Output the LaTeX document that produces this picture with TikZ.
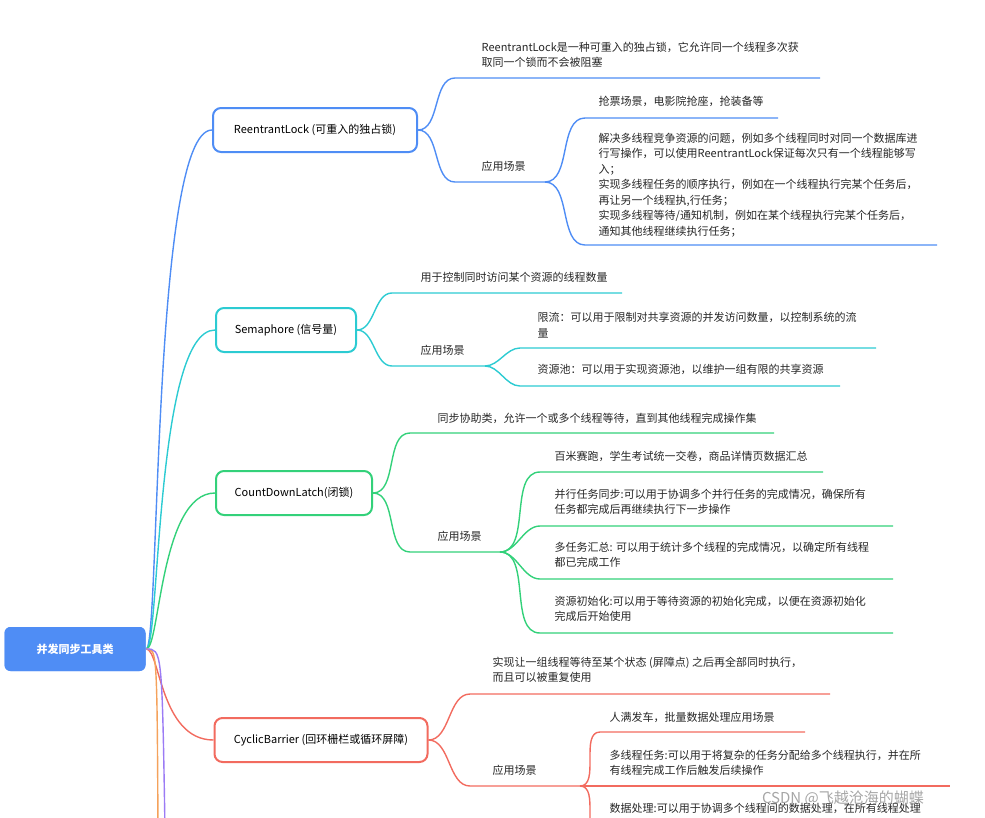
\documentclass[tikz,border=0pt]{standalone}
\usepackage{fontspec}
\setmainfont{Noto Sans CJK SC}
\definecolor{cBlue}{HTML}{4F8DF5}
\definecolor{cCyan}{HTML}{2CCBD2}
\definecolor{cGreen}{HTML}{33D17A}
\definecolor{cRed}{HTML}{F26B5F}
\definecolor{cOrange}{HTML}{F5A25B}
\definecolor{cPurple}{HTML}{9B7BF5}
\begin{document}
\begin{tikzpicture}[x=1pt,y=-1pt,
  line width=1.4pt,
  root node/.style={rounded corners=6pt,fill=cBlue,text=white,font=\fontsize{11}{13}\selectfont\bfseries,minimum width=141pt,minimum height=44pt},
  branch node/.style={rounded corners=8pt,draw,fill=white,line width=2pt,font=\fontsize{11}{13}\selectfont,minimum height=44pt,inner xsep=8pt},
  leaf/.style={anchor=west,align=left,inner sep=0pt,font=\fontsize{11}{15.5}\selectfont,text=black!85},
  link/.style={out=0,in=180,looseness=0.9}]

  \useasboundingbox (0,0) rectangle (985,817);
  \clip (0,0) rectangle (985,817);

  \node[root node] (root) at (75,649){并发同步工具类};
  \node[branch node,draw=cBlue,minimum width=204pt] (rl) at (315,130){ReentrantLock (可重入的独占锁)};
  \node[branch node,draw=cCyan,minimum width=140pt] (sem) at (286,330){Semaphore (信号量)};
  \node[branch node,draw=cGreen,minimum width=156pt] (cdl) at (294,493){CountDownLatch(闭锁)};
  \node[branch node,draw=cRed,minimum width=213pt] (cb) at (321,740){CyclicBarrier (回环栅栏或循环屏障)};
  \coordinate (more1) at (158,830);
  \coordinate (more2) at (165,830);

  % root to branches
  \draw[cBlue] (root.east) .. controls (160,649) and (152,130) .. (rl.west);
  \draw[cCyan] (root.east) .. controls (160,649) and (155,330) .. (sem.west);
  \draw[cGreen] (root.east) .. controls (160,649) and (160,493) .. (cdl.west);
  \draw[cRed] (root.east) .. controls (160,649) and (160,740) .. (cb.west);
  \draw[cOrange] (root.east) .. controls (157,649) .. (more1);
  \draw[cPurple] (root.east) .. controls (162,649) .. (more2);
  \node[root node] at (root){并发同步工具类};

  % ReentrantLock
  \coordinate (rl1s) at (455,78);  \coordinate (rl1e) at (820,78);
  \coordinate (rl2s) at (455,182); \coordinate (rl2e) at (545,182);
  \coordinate (rl3s) at (585,118); \coordinate (rl3e) at (778,118);
  \coordinate (rl4s) at (585,245); \coordinate (rl4e) at (937,245);
  \node[leaf] (rlt1) at (481,55){ReentrantLock是一种可重入的独占锁，它允许同一个线程多次获\\取同一个锁而不会被阻塞};
  \node[leaf] (rlt2) at (481,166){应用场景};
  \node[leaf] (rlt3) at (598,101){抢票场景，电影院抢座，抢装备等};
  \node[leaf] (rlt4) at (598,185){解决多线程竞争资源的问题，例如多个线程同时对同一个数据库进\\行写操作，可以使用ReentrantLock保证每次只有一个线程能够写\\入；\\实现多线程任务的顺序执行，例如在一个线程执行完某个任务后，\\再让另一个线程执,行任务；\\实现多线程等待/通知机制，例如在某个线程执行完某个任务后，\\通知其他线程继续执行任务；};
  \draw[cBlue] (rl.east) to[link] (rl1s) -- (rl1e);
  \draw[cBlue] (rl.east) to[link] (rl2s) -- (rl2e);
  \draw[cBlue] (rl2e) to[link] (rl3s) -- (rl3e);
  \draw[cBlue] (rl2e) to[link] (rl4s) -- (rl4e);

  % Semaphore
  \coordinate (sm1s) at (392,293); \coordinate (sm1e) at (622,293);
  \coordinate (sm2s) at (392,366); \coordinate (sm2e) at (485,366);
  \coordinate (sm3s) at (520,348); \coordinate (sm3e) at (876,348);
  \coordinate (sm4s) at (520,386); \coordinate (sm4e) at (840,386);
  \node[leaf] (smt1) at (420,277){用于控制同时访问某个资源的线程数量};
  \node[leaf] (smt2) at (420,350){应用场景};
  \node[leaf] (smt3) at (537,325){限流：可以用于限制对共享资源的并发访问数量，以控制系统的流\\量};
  \node[leaf] (smt4) at (537,369){资源池：可以用于实现资源池，以维护一组有限的共享资源};
  \draw[cCyan] (sem.east) to[link] (sm1s) -- (sm1e);
  \draw[cCyan] (sem.east) to[link] (sm2s) -- (sm2e);
  \draw[cCyan] (sm2e) to[link] (sm3s) -- (sm3e);
  \draw[cCyan] (sm2e) to[link] (sm4s) -- (sm4e);

  % CountDownLatch
  \coordinate (cd1s) at (410,433); \coordinate (cd1e) at (774,433);
  \coordinate (cd2s) at (410,552); \coordinate (cd2e) at (500,552);
  \coordinate (cd3s) at (540,472); \coordinate (cd3e) at (823,472);
  \coordinate (cd4s) at (540,526); \coordinate (cd4e) at (893,526);
  \coordinate (cd5s) at (540,579); \coordinate (cd5e) at (893,579);
  \coordinate (cd6s) at (540,633); \coordinate (cd6e) at (893,633);
  \node[leaf] (cdt1) at (437,418){同步协助类，允许一个或多个线程等待，直到其他线程完成操作集};
  \node[leaf] (cdt2) at (437,536){应用场景};
  \node[leaf] (cdt3) at (554,456){百米赛跑，学生考试统一交卷，商品详情页数据汇总};
  \node[leaf] (cdt4) at (554,502){并行任务同步:可以用于协调多个并行任务的完成情况，确保所有\\任务都完成后再继续执行下一步操作};
  \node[leaf] (cdt5) at (554,555){多任务汇总: 可以用于统计多个线程的完成情况，以确定所有线程\\都已完成工作};
  \node[leaf] (cdt6) at (554,609){资源初始化:可以用于等待资源的初始化完成，以便在资源初始化\\完成后开始使用};
  \draw[cGreen] (cdl.east) to[link] (cd1s) -- (cd1e);
  \draw[cGreen] (cdl.east) to[link] (cd2s) -- (cd2e);
  \foreach \i in {3,...,6}
    \draw[cGreen] (cd2e) to[link] (cd\i s) -- (cd\i e);

  % CyclicBarrier
  \coordinate (cy1s) at (470,694); \coordinate (cy1e) at (830,694);
  \coordinate (cy2s) at (470,786); \coordinate (cy2e) at (580,786);
  \coordinate (cy3s) at (600,732); \coordinate (cy3e) at (805,732);
  \coordinate (cy4s) at (600,786); \coordinate (cy4e) at (950,786);
  \coordinate (cy5s) at (600,840); \coordinate (cy5e) at (950,840);
  \node[leaf] (cyt1) at (492,670){实现让一组线程等待至某个状态 (屏障点) 之后再全部同时执行，\\而且可以被重复使用};
  \node[leaf] (cyt2) at (492,770){应用场景};
  \node[leaf] (cyt3) at (609,717){人满发车，批量数据处理应用场景};
  \node[leaf] (cyt4) at (609,763){多线程任务:可以用于将复杂的任务分配给多个线程执行，并在所\\有线程完成工作后触发后续操作};
  \node[leaf] (cyt5) at (609,808){数据处理:可以用于协调多个线程间的数据处理，在所有线程处理};
  \draw[cRed] (cb.east) to[link] (cy1s) -- (cy1e);
  \draw[cRed] (cb.east) to[link] (cy2s) -- (cy2e);
  \foreach \i in {3,...,5}
    \draw[cRed] (cy2e) to[link] (cy\i s) -- (cy\i e);

  \node[anchor=west,text=black!35,font=\fontsize{15}{17}\selectfont] (mark) at (758,798){CSDN @飞越沧海的蝴蝶};
\end{tikzpicture}
\end{document}
